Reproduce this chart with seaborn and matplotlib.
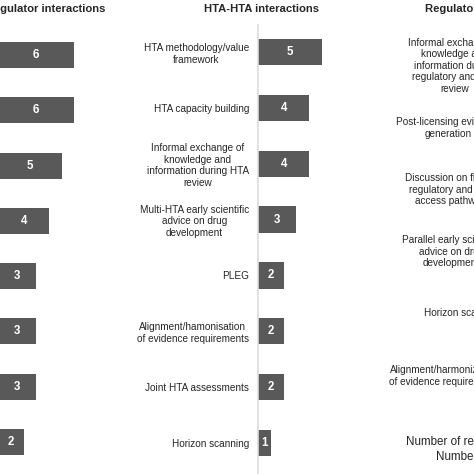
import matplotlib
matplotlib.use("Agg")
import matplotlib.pyplot as plt
import seaborn as sns

# --- data ---
left_cats = [
    "Informal exchange of\nknowledge",
    "Work-sharing",
    "Parallel scientific advice",
    "Capacity building",
    "Joint assessments",
    "Horizon scanning",
    "Alignment of evidence\nrequirements",
    "PLEG",
]
left_vals = [6, 6, 5, 4, 3, 3, 3, 2]

mid_cats = [
    "HTA methodology/value\nframework",
    "HTA capacity building",
    "Informal exchange of\nknowledge and\ninformation during HTA\nreview",
    "Multi-HTA early scientific\nadvice on drug\ndevelopment",
    "PLEG",
    "Alignment/hamonisation\nof evidence requirements",
    "Joint HTA assessments",
    "Horizon scanning",
]
mid_vals = [5, 4, 4, 3, 2, 2, 2, 1]

right_cats = [
    "Informal exchange of\nknowledge and\ninformation during\nregulatory and HTA\nreview",
    "Post-licensing evidence\ngeneration",
    "Discussion on flexible\nregulatory and early\naccess pathways",
    "Parallel early scientific\nadvice on drug\ndevelopment",
    "Horizon scanning",
    "Alignment/harmonization\nof evidence requirements",
]
right_vals = [5, 4, 3, 3, 2, 2]

titles = ["Regulator-regulator interactions", "HTA-HTA interactions",
          "Regulator-HTA interactions"]
note_lines = ["Number of regulators", "Number of HTA bodies"]

BAR = "#595959"
SPINE = "#dcdcdc"

sns.set_style("white")
plt.rcParams["font.family"] = ["Liberation Sans", "DejaVu Sans"]

W = H = 474
fig = plt.figure(figsize=(4.74, 4.74), dpi=100)


def px_axes(x0, x1, y0, y1):
    return fig.add_axes([x0 / W, 1 - y1 / H, (x1 - x0) / W, (y1 - y0) / H])


def panel(ax, cats, vals, ylim, xmax=7):
    sns.barplot(x=vals, y=cats, orient="h", color=BAR, width=0.47, ax=ax,
                saturation=1, edgecolor=BAR, linewidth=0)
    ax.bar_label(ax.containers[0], label_type="center", color="white",
                 fontweight="bold", fontsize=8.3)
    ax.set_xlim(0, xmax)
    ax.set_ylim(*ylim)
    ax.set_xlabel("")
    ax.set_ylabel("")
    ax.set_xticks([])
    ax.tick_params(axis="y", length=0, pad=6.5, labelsize=7.2)
    for t in ax.get_yticklabels():
        t.set_multialignment("center")
    for s in ["top", "right", "bottom"]:
        ax.spines[s].set_visible(False)
    ax.spines["left"].set_color(SPINE)
    ax.spines["left"].set_linewidth(1.2)
    ax.patch.set_alpha(0)


ax_l = px_axes(-1.5, -1.5 + 12.6 * 7, 25, 474)
panel(ax_l, left_cats, left_vals, (7.577, -0.5425))

ax_m = px_axes(258, 258 + 12.8 * 7, 25, 474)
panel(ax_m, mid_cats, mid_vals, (7.555, -0.483))

ax_r = px_axes(510, 600, 25, 474)
panel(ax_r, right_cats, right_vals, (6.613, -0.629))

fig.text(105 / W, 1 - 9 / H, titles[0], ha="right", va="center",
         fontsize=8.1, fontweight="bold")
fig.text(262 / W, 1 - 9 / H, titles[1], ha="center", va="center",
         fontsize=8.1, fontweight="bold")
fig.text(425 / W, 1 - 9 / H, titles[2], ha="left", va="center",
         fontsize=8.1, fontweight="bold")

fig.text(406 / W, 1 - 442 / H, note_lines[0], ha="left", va="center",
         fontsize=8.4)
fig.text(436 / W, 1 - 457 / H, note_lines[1], ha="left", va="center",
         fontsize=8.4)

fig.savefig("out.png", dpi=100)
